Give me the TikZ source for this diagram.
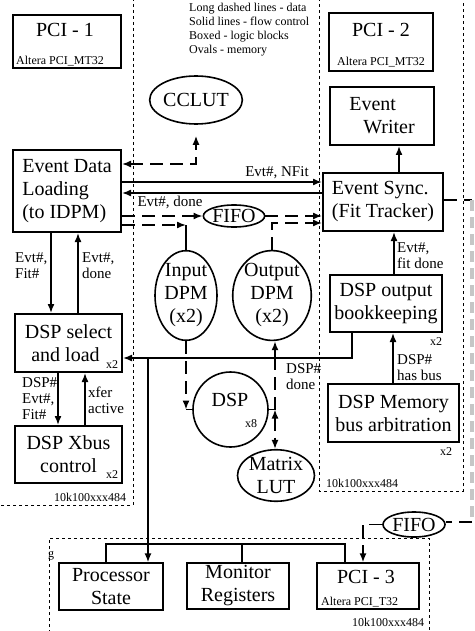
\documentclass[tikz,border=0pt]{standalone}
\usepackage{fontspec}
\setmainfont{Liberation Serif}
\usetikzlibrary{shapes.geometric,arrows.meta}
\begin{document}
\begin{tikzpicture}[x=1pt,y=-1pt,
  big/.style={font=\fontsize{20}{23}\selectfont},
  blk/.style={draw, line width=2pt, inner sep=0pt, align=center, big},
  blkthin/.style={draw, line width=1.3pt, inner sep=0pt, align=center, big},
  mem/.style={draw, ellipse, line width=1.6pt, inner sep=0pt, align=center, big},
  flow/.style={line width=1.6pt, -{Latex[length=9pt,width=7pt]}},
  plain/.style={line width=1.6pt},
  data/.style={line width=1.6pt, dash pattern=on 13pt off 7pt},
  datatip/.style={data, -{Latex[length=9pt,width=7pt]}},
  region/.style={line width=0.8pt, dash pattern=on 3pt off 3pt},
  lab/.style={font=\fontsize{15}{16}\selectfont, align=left, inner sep=0pt},
  small/.style={font=\fontsize{12}{14}\selectfont, inner sep=0pt, align=left}]
\useasboundingbox (0,0) rectangle (474,631);

% regions
\draw[region] (133,-2) -- (133,505) -- (-2,505);
\draw[region] (319,-2) -- (319,491) -- (463,491) -- (463,-2);
\draw[region] (49,633) -- (49,538) -- (429,538) -- (429,633);
\node[small] (r1) at (90,497) {10k100xxx484};
\node[small] (r2) at (362,483) {10k100xxx484};
\node[small] (r3) at (388,622) {10k100xxx484};
\node[small] (g) at (51,556) {g};

% legend
\node[small, anchor=north west] (legend) at (189,3) {Long dashed lines - data\\Solid lines - flow control\\Boxed - logic blocks\\Ovals - memory};

% boxes
\node[blk, minimum width=108pt, minimum height=53pt] (pci1) at (67,41.5) {};
\node[big, inner sep=0pt] (pci1t) at (65,30) {PCI - 1};
\node[small, anchor=west] (pci1a) at (16,61) {Altera PCI\_MT32};

\node[blk, minimum width=104pt, minimum height=58pt] (pci2) at (381,42) {};
\node[big, inner sep=0pt] (pci2t) at (381,30) {PCI - 2};
\node[small] (pci2a) at (381,62) {Altera PCI\_MT32};

\node[blk, minimum width=104pt, minimum height=58pt, align=left] (ew) at (382,116) {Event\\\hspace*{14pt}Writer};

\node[blk, minimum width=108pt, minimum height=82pt, align=left] (edl) at (67,191) {Event Data\\Loading\\(to IDPM)};

\node[blk, minimum width=120pt, minimum height=58pt, align=left] (es) at (383,202) {Event Sync.\\(Fit Tracker)};

\node[blk, minimum width=112pt, minimum height=57pt] (dob) at (386,303.5) {DSP output\\bookkeeping};
\node[small] (dobx) at (436,342) {x2};

\node[blk, minimum width=131pt, minimum height=58pt] (dma) at (393.5,413) {DSP Memory\\bus arbitration};
\node[small] (dmax) at (446,452) {x2};

\node[blk, minimum width=107pt, minimum height=58pt] (dsl) at (68.5,343) {DSP select\\\hspace*{6pt}and load\hspace*{12pt}};
\node[small] (dslx) at (112,365) {x2};

\node[blk, minimum width=107pt, minimum height=57pt] (dxb) at (68.5,454.5) {DSP Xbus\\control};
\node[small] (dxbx) at (112,475) {x2};

\node[blkthin, minimum width=104pt, minimum height=47pt] (ps) at (111,586.5) {Processor\\State};
\node[blkthin, minimum width=102pt, minimum height=46pt] (mr) at (238,586) {Monitor\\Registers};
\node[blkthin, minimum width=102pt, minimum height=46pt] (pci3) at (368,586) {};
\node[big, inner sep=0pt] (pci3t) at (366,577) {PCI - 3};
\node[small, anchor=west] (pci3a) at (321,602) {Altera PCI\_T32};

% memories
\node[mem, minimum width=88pt, minimum height=48pt] (cclut) at (196,100) {CCLUT};
\node[mem, minimum width=60pt, minimum height=22pt] (fifo1) at (234,216) {FIFO};
\node[mem, minimum width=62pt, minimum height=77pt] (idpm) at (186,295.5) {Input\\DPM\\(x2)};
\node[mem, minimum width=62pt, minimum height=77pt] (odpm) at (272,295.5) {Output\\DPM\\(x2)};
\node[draw, circle, line width=1.6pt, minimum size=75pt, inner sep=0pt] (dsp) at (230.5,409.5) {};
\node[big, inner sep=0pt] (dspt) at (230,400) {DSP};
\node[small] (dspx) at (251,424) {x8};
\node[mem, minimum width=70pt, minimum height=45pt] (mlut) at (276,475.5) {Matrix\\LUT};
\node[mem, minimum width=62pt, minimum height=25pt] (fifo2) at (414,524.5) {FIFO};

% coordinates
\coordinate (c1) at (196,164);
\coordinate (c2) at (186,225);
\coordinate (c3) at (272,223);
\coordinate (c4) at (186,409.5);
\coordinate (c5) at (275,409.5);
\coordinate (b1) at (352,358);
\coordinate (b2) at (275,358);
\coordinate (b3) at (148,358);
\coordinate (g1) at (472,200);
\coordinate (g2) at (472,522);
\coordinate (f2) at (363,524.5);
\coordinate (m1) at (106,544);
\coordinate (m2) at (242,544);
\coordinate (m3) at (345,544);

% data connectors
\draw[data, {Latex[length=9pt,width=7pt]}-{Latex[length=9pt,width=7pt]}, shorten >=11pt] (edl.east |- c1) -- (c1) -- (cclut.south);
\draw[datatip] (edl.east |- fifo1) -- (fifo1.west);
\draw[datatip] (edl.east |- c2) -- (c2);
\draw[plain] (c2) -- (idpm.north);
\draw[datatip] (fifo1.east) -- (es.west |- fifo1);
\draw[datatip] (odpm.north) -- (c3) -- (es.west |- c3);
\draw[datatip] (idpm.south) -- (c4);
\draw[plain] (c4) -- (dsp.west);
\draw[plain] (dsp.east) -- (c5);
\draw[data, {Latex[length=9pt,width=7pt]}-{Latex[length=9pt,width=7pt]}] (c5) -- (c5 |- mlut.north);
\draw[data] (c5) -- (b2);
\draw[data] (es.east |- g1) -- (g1);
\draw[line width=3.5pt, gray!45, dash pattern=on 11pt off 6pt] (g1) -- (g2);
\draw[data] (g2) -- (fifo2.east |- g2);
\draw[datatip] (fifo2.west) -- (f2) -- (f2 |- pci3.north);

% flow connectors
\draw[flow] (edl.east |- 0,182) -- (es.west |- 0,182);
\node[lab] (lnfit) at (277,173) {Evt\#, NFit};
\draw[flow] (es.west |- 0,193) -- (edl.east |- 0,193);
\node[lab] (ldone) at (170,202.5) {Evt\#, done};

\draw[flow] (es.north -| 399,0) -- (ew.south -| 399,0);
\draw[flow] (dob.north -| 394,0) -- (es.south -| 394,0);
\node[lab, anchor=west] (lfit) at (397,256) {Evt\#,\\fit done};
\draw[flow] (dma.north -| 393,0) -- (dob.south -| 393,0);
\node[lab, anchor=west] (lbus) at (397,368) {DSP\#\\has bus};

\draw[flow] (edl.south -| 51,0) -- (dsl.north -| 51,0);
\node[lab, anchor=west] (l1) at (15,265.5) {Evt\#,\\Fit\#};
\draw[flow] (dsl.north -| 78,0) -- (edl.south -| 78,0);
\node[lab, anchor=west] (l2) at (82,265.5) {Evt\#,\\done};
\draw[flow] (dsl.south -| 58,0) -- (dxb.north -| 58,0);
\node[lab, anchor=west] (l3) at (22,399) {DSP\#\\Evt\#,\\Fit\#};
\draw[flow] (dxb.north -| 85,0) -- (dsl.south -| 85,0);
\node[lab, anchor=west] (l4) at (88,400) {xfer\\active};

\draw[flow] (dob.south -| b1) -- (b1) -- (dsl.east |- b1);
\draw[flow] (b2) -- (b2 |- odpm.south);
\node[lab, anchor=west] (l5) at (286,377) {DSP\#\\done};
\draw[flow] (b3) -- (b3 |- ps.north);
\draw[plain] (m1 |- ps.north) -- (m1) -- (m3) -- (m3 |- pci3.north);
\draw[plain] (m2) -- (m2 |- mr.north);
\end{tikzpicture}
\end{document}
